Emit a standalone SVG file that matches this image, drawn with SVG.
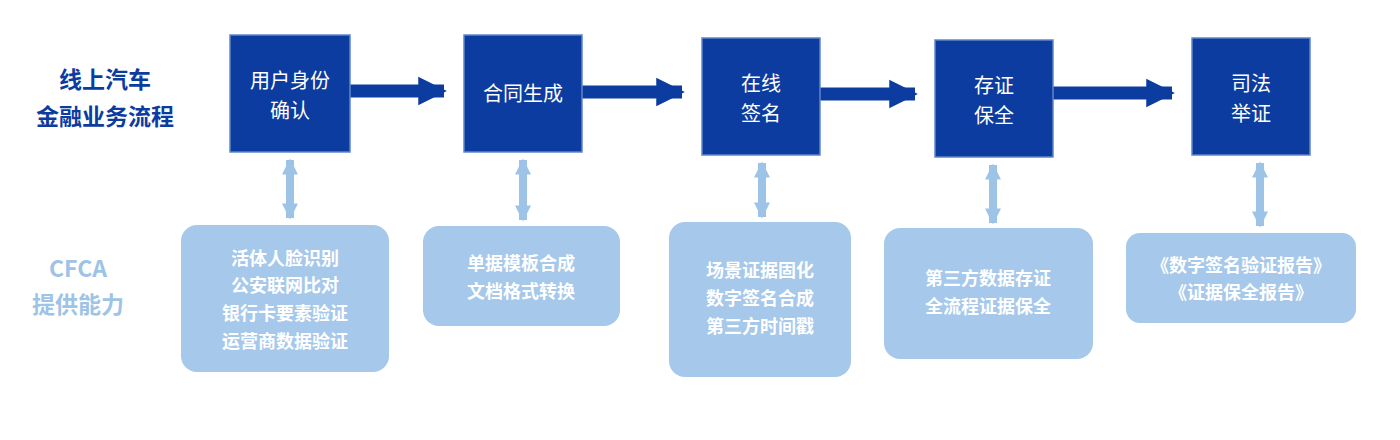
<svg xmlns="http://www.w3.org/2000/svg" width="1400" height="440" viewBox="0 0 1400 440">
<style>
.top{fill:#0c3c9f;stroke:#5f86c8;stroke-width:1.5}
.bot{fill:#a6c8ea}
.tt{font-family:"Noto Sans CJK SC",sans-serif;font-size:20px;fill:#fff;text-anchor:middle}
.bt{font-family:"Noto Sans CJK SC",sans-serif;font-size:18px;fill:#fff;text-anchor:middle;font-weight:bold}
.h{stroke:#0c3c9f;stroke-width:13;fill:none}
.v{stroke:#9dc3e6;stroke-width:8;fill:none}
</style>
<defs>
<marker id="ah" viewBox="0 0 10 10" refX="9" refY="5" markerWidth="2.2" markerHeight="2.8" orient="auto" markerUnits="strokeWidth"><path d="M0,0L10,5L0,10z" fill="#0c3c9f"/></marker>
<marker id="av" viewBox="0 0 10 10" refX="9" refY="5" markerWidth="2.2" markerHeight="2" orient="auto-start-reverse" markerUnits="strokeWidth"><path d="M0,0L10,5L0,10z" fill="#9dc3e6"/></marker>
</defs>
<rect width="1400" height="440" fill="#fff"/>
<g id="labels" font-family="Noto Sans CJK SC,sans-serif" font-weight="bold" text-anchor="middle">
<text x="105" y="88" font-size="23" fill="#0c3c9f">线上汽车</text>
<text x="105" y="125" font-size="23" fill="#0c3c9f">金融业务流程</text>
<text x="78" y="277" font-size="23" fill="#9dc3e6">CFCA</text>
<text x="78" y="313" font-size="23" fill="#9dc3e6">提供能力</text>
</g>
<g id="connectors">
<path class="h" d="M350 91H444" marker-end="url(#ah)"/>
<path class="h" d="M582 92H682" marker-end="url(#ah)"/>
<path class="h" d="M820 94H915" marker-end="url(#ah)"/>
<path class="h" d="M1053 93H1172" marker-end="url(#ah)"/>
<path class="v" d="M290 160V218" marker-start="url(#av)" marker-end="url(#av)"/>
<path class="v" d="M523 160V220" marker-start="url(#av)" marker-end="url(#av)"/>
<path class="v" d="M762 163V217" marker-start="url(#av)" marker-end="url(#av)"/>
<path class="v" d="M993 165V223" marker-start="url(#av)" marker-end="url(#av)"/>
<path class="v" d="M1260 163V226" marker-start="url(#av)" marker-end="url(#av)"/>
</g>
<g id="n1"><rect class="top" x="230" y="35" width="120" height="117"/><text class="tt" x="290" y="88">用户身份</text><text class="tt" x="290" y="118">确认</text></g>
<g id="n2"><rect class="top" x="464" y="35" width="118" height="117"/><text class="tt" x="523" y="101">合同生成</text></g>
<g id="n3"><rect class="top" x="702" y="38" width="118" height="117"/><text class="tt" x="761" y="91">在线</text><text class="tt" x="761" y="121">签名</text></g>
<g id="n4"><rect class="top" x="935" y="40" width="118" height="117"/><text class="tt" x="994" y="93">存证</text><text class="tt" x="994" y="123">保全</text></g>
<g id="n5"><rect class="top" x="1192" y="38" width="118" height="117"/><text class="tt" x="1251" y="91">司法</text><text class="tt" x="1251" y="121">举证</text></g>
<g id="b1"><rect class="bot" x="181" y="225" width="208" height="147" rx="16"/><text class="bt" x="285" y="265">活体人脸识别</text><text class="bt" x="285" y="292">公安联网比对</text><text class="bt" x="285" y="320">银行卡要素验证</text><text class="bt" x="285" y="348">运营商数据验证</text></g>
<g id="b2"><rect class="bot" x="423" y="226" width="197" height="100" rx="16"/><text class="bt" x="521" y="270">单据模板合成</text><text class="bt" x="521" y="298">文档格式转换</text></g>
<g id="b3"><rect class="bot" x="669" y="222" width="182" height="155" rx="16"/><text class="bt" x="760" y="277">场景证据固化</text><text class="bt" x="760" y="305">数字签名合成</text><text class="bt" x="760" y="333">第三方时间戳</text></g>
<g id="b4"><rect class="bot" x="884" y="228" width="209" height="131" rx="16"/><text class="bt" x="988" y="285">第三方数据存证</text><text class="bt" x="988" y="313">全流程证据保全</text></g>
<g id="b5"><rect class="bot" x="1126" y="233" width="230" height="90" rx="14"/><text class="bt" x="1241" y="272">《数字签名验证报告》</text><text class="bt" x="1241" y="299">《证据保全报告》</text></g>
</svg>
